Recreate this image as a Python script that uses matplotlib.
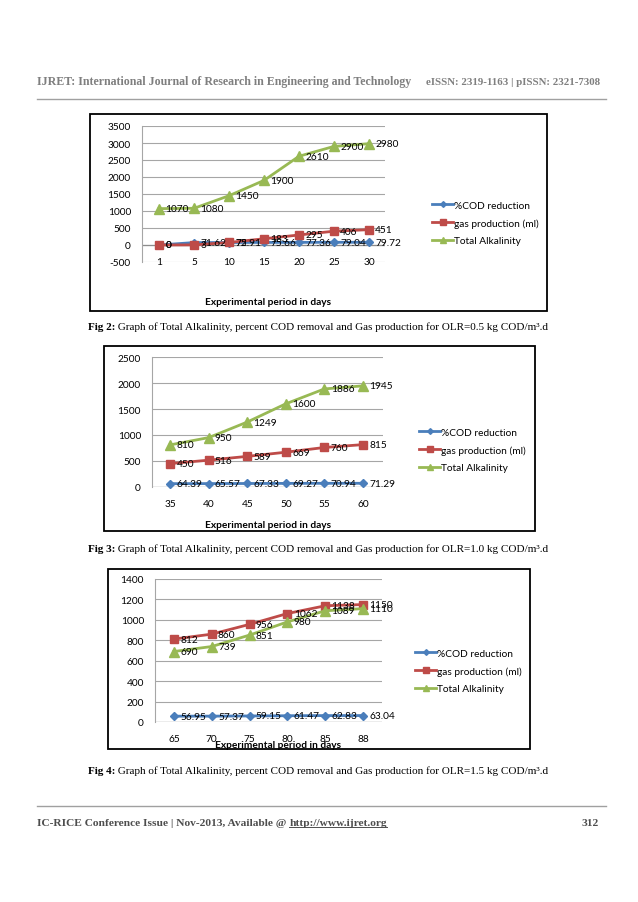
import matplotlib
matplotlib.use("Agg")
from matplotlib import pyplot as plt
from matplotlib.patches import Rectangle
from matplotlib.lines import Line2D

# Fig 2 data (OLR = 0.5)
days_2 = ["1", "5", "10", "15", "20", "25", "30"]
cod_2 = [0, 71.62, 72.91, 75.66, 77.36, 79.04, 79.72]
gas_2 = [0, 3, 75, 183, 295, 406, 451]
alk_2 = [1070, 1080, 1450, 1900, 2610, 2900, 2980]

# Fig 3 data (OLR = 1.0)
days_3 = ["35", "40", "45", "50", "55", "60"]
cod_3 = [64.39, 65.57, 67.33, 69.27, 70.94, 71.29]
gas_3 = [450, 516, 589, 669, 760, 815]
alk_3 = [810, 950, 1249, 1600, 1886, 1945]

# Fig 4 data (OLR = 1.5)
days_4 = ["65", "70", "75", "80", "85", "88"]
cod_4 = [56.95, 57.37, 59.15, 61.47, 62.83, 63.04]
gas_4 = [812, 860, 956, 1062, 1138, 1150]
alk_4 = [690, 739, 851, 980, 1089, 1110]

series_names = ["%COD reduction", "gas production (ml)", "Total Alkalinity"]
colors = ["#4A7EBB", "#BE4B48", "#98B954"]
markers = ["D", "s", "^"]
msizes = [4.5, 6, 7]

W, H = 638, 903
CHART_FONT = "Lato"
SERIF = "Liberation Serif"

fig = plt.figure(figsize=(W / 100, H / 100), dpi=100)


def fx(px):
    return px / W


def fy(py):
    return 1 - py / H


def add_box(x0, y0, x1, y1):
    fig.patches.append(Rectangle((fx(x0), fy(y1)), fx(x1) - fx(x0), fy(y0) - fy(y1),
                                 transform=fig.transFigure, fill=False,
                                 edgecolor="black", linewidth=1.3))


def draw_chart(box, ax_px, xlim, days, cod, gas, alk, ylim, ystep, xpad,
               xlabel_pos, legend_pos):
    add_box(*box)
    x0, y0, x1, y1 = ax_px
    ax = fig.add_axes([fx(x0), fy(y1), fx(x1) - fx(x0), fy(y0) - fy(y1)])
    ax.set_facecolor("none")
    pos = list(range(len(days)))

    for vals, c, m, ms in zip([cod, gas, alk], colors, markers, msizes):
        ax.plot(pos, vals, color=c, marker=m, markersize=ms, linewidth=2,
                markeredgecolor=c, zorder=3, clip_on=False)
        for p, v in zip(pos, vals):
            ax.annotate(f"{v:g}", (p, v), xytext=(4.5, 0), textcoords="offset points",
                        ha="left", va="center", fontsize=7.3, family=CHART_FONT,
                        zorder=4)

    ax.set_xlim(*xlim)
    ax.set_ylim(*ylim)
    ticks = list(range(ylim[0], ylim[1] + 1, ystep))
    ax.set_yticks(ticks)
    ax.set_yticklabels([str(t) for t in ticks], fontsize=7.3, family=CHART_FONT)
    ax.set_xticks(pos)
    ax.set_xticklabels(days, fontsize=7.3, family=CHART_FONT)
    ax.tick_params(axis="y", length=0, pad=8)
    ax.tick_params(axis="x", length=0, pad=xpad)
    ax.grid(axis="y", color="#A6A6A6", linewidth=0.8)
    ax.set_axisbelow(True)
    for s in ["top", "right", "bottom"]:
        ax.spines[s].set_visible(False)
    ax.spines["left"].set_color("#A6A6A6")
    ax.spines["left"].set_linewidth(0.8)
    ax.axhline(0, color="#8C8C8C", linewidth=0.9, zorder=1)

    fig.text(fx(xlabel_pos[0]), fy(xlabel_pos[1]), "Experimental period in days",
             ha="center", va="center", fontsize=7.3, fontweight="bold", family=CHART_FONT)

    handles = [Line2D([], [], color=c, marker=m, markersize=ms * 0.65, linewidth=2)
               for c, m, ms in zip(colors, markers, msizes)]
    fig.legend(handles, series_names, loc="center left",
               bbox_to_anchor=(fx(legend_pos[0]), fy(legend_pos[1])),
               frameon=False, prop={"family": CHART_FONT, "size": 7.3},
               handlelength=2.1, handletextpad=0.1, labelspacing=0.85,
               borderpad=0, borderaxespad=0)
    return ax


draw_chart((90, 115, 547, 312), (142, 127, 385, 263), (-0.49, 6.46),
           days_2, cod_2, gas_2, alk_2, (-500, 3500), 500, -3.3,
           (268, 303), (432, 224))
draw_chart((104, 347, 535, 532), (152, 358, 383, 488), (-0.47, 5.52),
           days_3, cod_3, gas_3, alk_3, (0, 2500), 500, 8.6,
           (268, 525), (419, 451))
draw_chart((108, 570, 530, 750), (155, 580, 382, 723), (-0.5, 5.5),
           days_4, cod_4, gas_4, alk_4, (0, 1400), 200, 8.6,
           (278, 745), (415, 672))

renderer = fig.canvas.get_renderer()


def text_run(x_px, y_px, parts, size, color="black"):
    # parts: list of (text, weight, underline)
    x = fx(x_px)
    for txt, weight, underline in parts:
        t = fig.text(x, fy(y_px), txt, ha="left", va="baseline", fontsize=size,
                     fontweight=weight, family=SERIF, color=color)
        bb = t.get_window_extent(renderer=renderer)
        if underline:
            fig.add_artist(Line2D([bb.x0 / W, bb.x1 / W],
                                  [fy(y_px + 1.5), fy(y_px + 1.5)],
                                  transform=fig.transFigure, color=color, linewidth=0.7))
        x = bb.x1 / W


# page header
fig.text(fx(37), fy(85), "IJRET: International Journal of Research in Engineering and Technology",
         ha="left", va="baseline", fontsize=8.6, fontweight="bold", family=SERIF, color="#7F7F7F")
fig.text(fx(600), fy(85), "eISSN: 2319-1163 | pISSN: 2321-7308",
         ha="right", va="baseline", fontsize=7.8, fontweight="bold", family=SERIF, color="#7F7F7F")
fig.add_artist(Line2D([fx(37), fx(606)], [fy(100), fy(100)], transform=fig.transFigure,
                      color="#A0A0A0", linewidth=1))

# captions
captions = [
    (330, "Fig 2:", " Graph of Total Alkalinity, percent COD removal and Gas production for OLR=0.5 kg COD/m³.d"),
    (552, "Fig 3:", " Graph of Total Alkalinity, percent COD removal and Gas production for OLR=1.0 kg COD/m³.d"),
    (774, "Fig 4:", " Graph of Total Alkalinity, percent COD removal and Gas production for OLR=1.5 kg COD/m³.d"),
]
for y, head, body in captions:
    text_run(88, y, [(head, "bold", False), (body, "normal", False)], 8.05)

# page footer
fig.add_artist(Line2D([fx(37), fx(606)], [fy(807), fy(807)], transform=fig.transFigure,
                      color="#A0A0A0", linewidth=1))
text_run(37, 826, [("IC-RICE Conference Issue | Nov-2013, Available @ ", "bold", False),
                   ("http://www.ijret.org", "bold", True)], 8.2, color="#4D4D4D")
fig.text(fx(599), fy(826), "312", ha="right", va="baseline", fontsize=8.2,
         fontweight="bold", family=SERIF, color="#4D4D4D")

fig.savefig("out.png", dpi=100)
